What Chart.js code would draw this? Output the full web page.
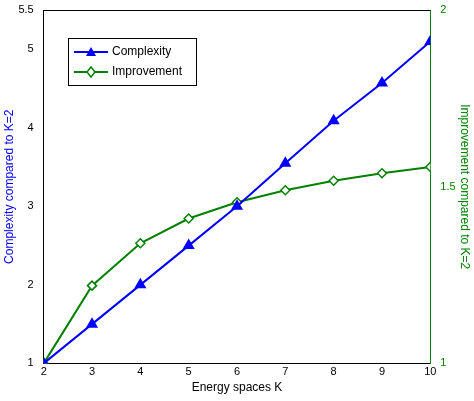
<!DOCTYPE html>
<html><head><script src="https://cdn.jsdelivr.net/npm/chart.js@4"></script>
<style>body{margin:0;background:#fff}#w{width:474px;height:401px}</style></head>
<body><div id="w"><canvas id="c"></canvas></div>
<script>
const categories=[2,3,4,5,6,7,8,9,10];
const complexity=[1,1.5,2,2.5,3,3.55,4.09,4.57,5.1];
const improvement=[1,1.22,1.34,1.41,1.456,1.49,1.517,1.538,1.556];
const leftTicks=[1,2,3,4,5,5.5];
const rightTicks=[1,1.5,2];
const font={family:'Liberation Sans, Arial',size:11};
const legendPlugin={id:'lg',afterDraw(ch){const c=ch.ctx,a=ch.chartArea;c.save();
c.strokeStyle='#000';c.lineWidth=1;c.fillStyle='#fff';
c.fillRect(68,38,128,47);c.strokeRect(68.5,38.5,128,47);
c.font='12px Liberation Sans, Arial';c.textBaseline='middle';
[[ 'Complexity','#0000ff','tri',52],['Improvement','#008000','dia',72]].forEach(([t,col,s,y])=>{
c.strokeStyle=col;c.lineWidth=2;c.beginPath();c.moveTo(74,y);c.lineTo(108,y);c.stroke();
c.fillStyle=col;c.beginPath();if(s==='tri'){c.moveTo(91,y-5);c.lineTo(96,y+4);c.lineTo(86,y+4);c.closePath();c.fill();}
else{c.moveTo(91,y-5);c.lineTo(95,y);c.lineTo(91,y+5);c.lineTo(87,y);c.closePath();c.fillStyle='#fff';c.fill();c.lineWidth=1.5;c.stroke();}
c.fillStyle='#000';c.fillText(t,112,y);});
c.strokeStyle='#000';c.lineWidth=1;c.beginPath();c.moveTo(a.left,a.top+0.5);c.lineTo(a.right,a.top+0.5);c.stroke();
c.restore();}};
new Chart(document.getElementById('c'),{type:'line',
data:{labels:categories,datasets:[
{label:'Complexity',data:complexity,yAxisID:'y',borderColor:'#0000ff',backgroundColor:'#0000ff',borderWidth:2,pointStyle:'triangle',pointRadius:5,tension:0},
{label:'Improvement',data:improvement,yAxisID:'y1',borderColor:'#008000',backgroundColor:'#ffffff',borderWidth:2,pointBorderWidth:1.5,pointStyle:'rectRot',pointRadius:4.5,tension:0}]},
options:{animation:false,responsive:true,maintainAspectRatio:false,
layout:{padding:{top:10,right:2,left:2,bottom:2}},
plugins:{legend:{display:false},tooltip:{enabled:false}},
scales:{
x:{type:'linear',min:2,max:10,ticks:{stepSize:1,color:'#000',font,padding:2},grid:{display:false,drawTicks:false},border:{color:'#000'},
title:{display:true,text:'Energy spaces K',color:'#000',font:{family:'Liberation Sans, Arial',size:12},padding:{top:0}}},
y:{min:1,max:5.5,afterBuildTicks:s=>{s.ticks=leftTicks.map(v=>({value:v}))},ticks:{color:'#000',font,padding:2,callback:v=>String(v)},grid:{display:false},border:{color:'#000'},
title:{display:true,text:'Complexity compared to K=2',color:'#0000ff',font:{family:'Liberation Sans, Arial',size:12},padding:{bottom:0,top:0}}},
y1:{position:'right',min:1,max:2,afterBuildTicks:s=>{s.ticks=rightTicks.map(v=>({value:v}))},ticks:{color:'#008000',font,padding:2,callback:v=>String(v)},grid:{display:false},border:{color:'#008000'},
title:{display:true,text:'Improvement compared to K=2',color:'#008000',font:{family:'Liberation Sans, Arial',size:12},padding:{bottom:0,top:0}}}}},
plugins:[legendPlugin]});
</script></body></html>
